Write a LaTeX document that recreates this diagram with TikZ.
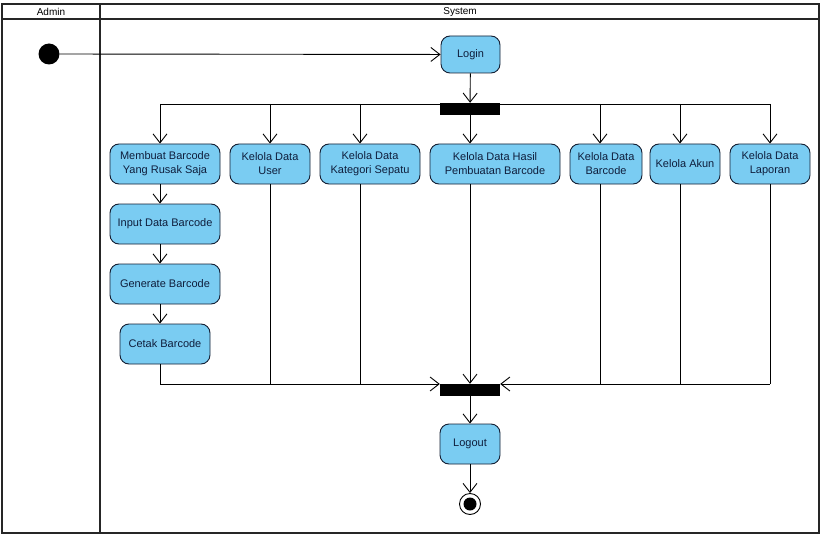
\documentclass[tikz,border=0pt]{standalone}
\usepackage{fontspec}
\setmainfont{Liberation Sans}
\usetikzlibrary{arrows.meta,calc}
\definecolor{actfill}{RGB}{122,204,242}
\definecolor{actdraw}{RGB}{20,30,50}
\definecolor{acttext}{RGB}{15,30,60}
\tikzset{
  act/.style={draw=actdraw, fill=actfill, rounded corners=9pt, line width=0.9pt,
    text=acttext, font=\fontsize{11}{14}\selectfont, align=center, inner sep=0pt},
  bar/.style={fill=black, draw=none, minimum width=60pt, minimum height=12pt, inner sep=0pt},
  flow/.style={line width=0.9pt, -{Straight Barb[length=9pt,width=14pt,line width=0.9pt]}},
  plain/.style={line width=0.9pt},
  lane/.style={line width=2pt, draw=black!85},
  hdr/.style={font=\fontsize{10}{12}\selectfont}
}
\begin{document}
\begin{tikzpicture}[x=1pt,y=-1pt]
\useasboundingbox (0,0) rectangle (826,540);
% swimlane frame
\draw[lane] (2,4) rectangle (819,533);
\draw[lane] (2,19) -- (819,19);
\draw[lane] (100,4) -- (100,533);
\node[hdr] (hadmin) at (51,12) {Admin};
\node[hdr] (hsys) at (460,12) {System};
% nodes
\node[circle, fill=black, minimum size=21pt, inner sep=0pt] (start) at (49,54) {};
\node[act, minimum width=59pt, minimum height=37pt] (login) at (470.5,54.5) {Login};
\node[bar] (fork) at (470,109) {};
\node[act, minimum width=110pt, minimum height=40pt] (mb) at (165,164) {Membuat Barcode\\Yang Rusak Saja};
\node[act, minimum width=110pt, minimum height=40pt] (inp) at (165,224) {Input Data Barcode};
\node[act, minimum width=110pt, minimum height=40pt] (gen) at (165,284) {Generate Barcode};
\node[act, minimum width=90pt, minimum height=40pt] (cetak) at (165,344) {Cetak Barcode};
\node[act, minimum width=80pt, minimum height=40pt] (user) at (270,164) {Kelola Data\\User};
\node[act, minimum width=100pt, minimum height=40pt] (kat) at (370,164) {Kelola Data\\Kategori Sepatu};
\node[act, minimum width=130pt, minimum height=40pt] (hasil) at (495,164) {Kelola Data Hasil\\Pembuatan Barcode};
\node[act, minimum width=72pt, minimum height=40pt] (bc) at (606,164) {Kelola Data\\Barcode};
\node[act, minimum width=70pt, minimum height=40pt] (akun) at (685,164) {Kelola Akun};
\node[act, minimum width=80pt, minimum height=40pt] (lap) at (770,164) {Kelola Data\\Laporan};
\node[bar] (join) at (470,390) {};
\node[act, minimum width=60pt, minimum height=40pt] (logout) at (470,444) {Logout};
\node[circle, draw=black, line width=0.9pt, minimum size=21pt, inner sep=0pt] (end) at (470,504) {};
\node[circle, fill=black, minimum size=13pt, inner sep=0pt] (endin) at (end) {};
% column coordinates
\coordinate (c1) at (160,104);
\coordinate (c2) at (270,104);
\coordinate (c3) at (360,104);
\coordinate (c4) at (470,104);
\coordinate (c5) at (600,104);
\coordinate (c6) at (680,104);
\coordinate (c7) at (770,104);
\coordinate (jl) at (160,384);
\coordinate (jr) at (770,384);
% connectors
\draw[flow] (start) -- (login);
\draw[flow] (login) -- (fork);
\draw[plain] (c1) -- (c7);
\draw[flow] (c1) -- (c1 |- mb.north);
\draw[flow] (c2) -- (c2 |- user.north);
\draw[flow] (c3) -- (c3 |- kat.north);
\draw[flow] (c4 |- fork.south) -- (c4 |- hasil.north);
\draw[flow] (c5) -- (c5 |- bc.north);
\draw[flow] (c6) -- (c6 |- akun.north);
\draw[flow] (c7) -- (c7 |- lap.north);
\draw[flow] (c1 |- mb.south) -- (c1 |- inp.north);
\draw[flow] (c1 |- inp.south) -- (c1 |- gen.north);
\draw[flow] (c1 |- gen.south) -- (c1 |- cetak.north);
\draw[plain] (c1 |- cetak.south) -- (jl);
\draw[plain] (c2 |- user.south) -- (c2 |- jl);
\draw[plain] (c3 |- kat.south) -- (c3 |- jl);
\draw[plain] (c5 |- bc.south) -- (c5 |- jl);
\draw[plain] (c6 |- akun.south) -- (c6 |- jl);
\draw[plain] (c7 |- lap.south) -- (jr);
\draw[flow] (jl) -- (jl -| join.west);
\draw[flow] (jr) -- (jr -| join.east);
\draw[flow] (c4 |- hasil.south) -- (c4 |- join.north);
\draw[flow] (join) -- (logout);
\draw[flow] (logout) -- (end);
\end{tikzpicture}
\end{document}
